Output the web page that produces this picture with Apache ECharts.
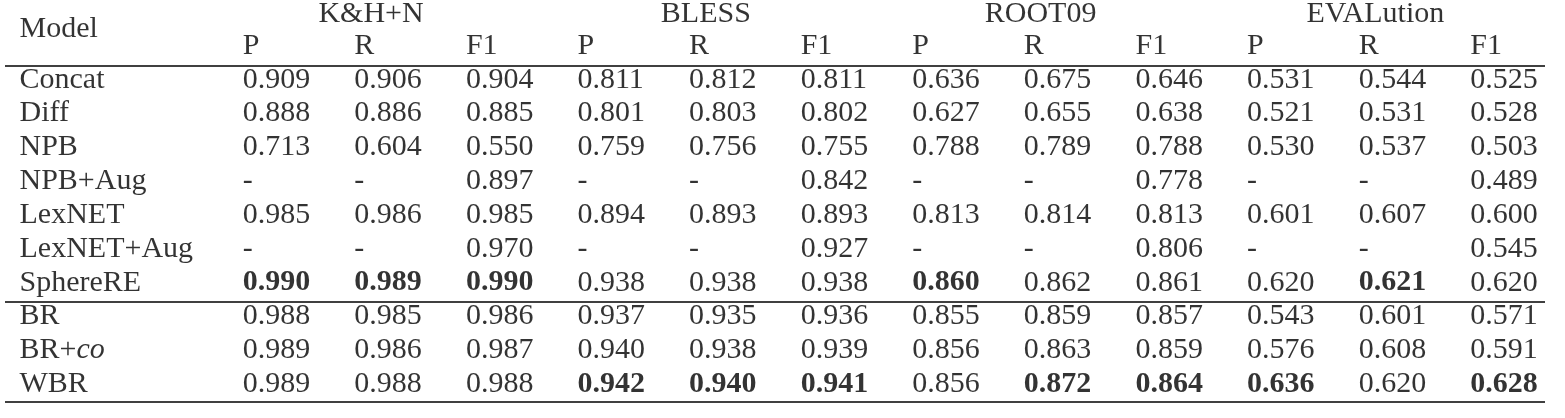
<!DOCTYPE html>
<html>
<head>
<meta charset="utf-8">
<script src="https://cdn.jsdelivr.net/npm/echarts@6/dist/echarts.min.js"></script>
<style>html,body{margin:0;background:#fff}#main{width:1565px;height:418px}</style>
</head>
<body>
<div id="main"></div>
<script>
var groups = ['K&H+N', 'BLESS', 'ROOT09', 'EVALution'];
var metrics = ['P', 'R', 'F1'];
var models = ['Concat', 'Diff', 'NPB', 'NPB+Aug', 'LexNET', 'LexNET+Aug', 'SphereRE', 'BR', 'BR+co', 'WBR'];
var values = [
    ['0.909','0.906','0.904','0.811','0.812','0.811','0.636','0.675','0.646','0.531','0.544','0.525'],
    ['0.888','0.886','0.885','0.801','0.803','0.802','0.627','0.655','0.638','0.521','0.531','0.528'],
    ['0.713','0.604','0.550','0.759','0.756','0.755','0.788','0.789','0.788','0.530','0.537','0.503'],
    ['-','-','0.897','-','-','0.842','-','-','0.778','-','-','0.489'],
    ['0.985','0.986','0.985','0.894','0.893','0.893','0.813','0.814','0.813','0.601','0.607','0.600'],
    ['-','-','0.970','-','-','0.927','-','-','0.806','-','-','0.545'],
    ['0.990','0.989','0.990','0.938','0.938','0.938','0.860','0.862','0.861','0.620','0.621','0.620'],
    ['0.988','0.985','0.986','0.937','0.935','0.936','0.855','0.859','0.857','0.543','0.601','0.571'],
    ['0.989','0.986','0.987','0.940','0.938','0.939','0.856','0.863','0.859','0.576','0.608','0.591'],
    ['0.989','0.988','0.988','0.942','0.940','0.941','0.856','0.872','0.864','0.636','0.620','0.628']
];
// [row, col] 加粗
var boldCells = [[6,0],[6,1],[6,2],[6,6],[6,10],[9,3],[9,4],[9,5],[9,7],[9,8],[9,9],[9,11]];

function isBold(r, c) {
    return boldCells.some(function (b) { return b[0] === r && b[1] === c; });
}

// 单元格文本
var normalCells = [], boldData = [], headCells = [];
values.forEach(function (row, r) {
    row.forEach(function (v, c) {
        (isBold(r, c) ? boldData : normalCells).push([c, r, v]);
    });
    headCells.push([-2, r, models[r]]);
});
headCells.push([-2, -1.5, 'Model']);
groups.forEach(function (g, i) {
    metrics.forEach(function (m, j) { headCells.push([i * 3 + j, -1, m]); });
});
var groupCells = groups.map(function (g, i) { return [i * 3 + 1.15, -1.95, g]; });

var font = '"Liberation Serif", "DejaVu Serif", serif';
function textSeries(data, opts) {
    return {
        type: 'scatter',
        symbolSize: 0,
        data: data,
        silent: true,
        label: Object.assign({
            show: true,
            position: 'inside',
            align: 'left',
            verticalAlign: 'middle',
            fontFamily: font,
            fontSize: 30,
            color: '#000',
            formatter: function (p) {
                var t = p.data[2];
                return t === 'BR+co' ? 'BR+{i|co}' : t;
            },
            rich: { i: { fontStyle: 'italic', fontFamily: font, fontSize: 30, color: '#000' } }
        }, opts || {})
    };
}

var tableChart = echarts.init(document.getElementById('main'));
var tableOption = {
    animation: false,
    grid: { left: 5, right: 20, top: 12, bottom: -14 },
    xAxis: { type: 'value', min: -2.13, max: 11.67, show: false },
    yAxis: { type: 'value', min: -2, max: 10, inverse: true, show: false },
    series: [
        textSeries(normalCells),
        textSeries(boldData, { fontWeight: 'bold' }),
        textSeries(headCells),
        textSeries(groupCells, { align: 'center' }),
        {
            type: 'line',
            data: [],
            markLine: {
                silent: true,
                symbol: 'none',
                label: { show: false },
                lineStyle: { color: '#000', type: 'solid', width: 1.6 },
                data: [{ yAxis: -0.4 }, { yAxis: 6.57 }, { yAxis: 9.51 }]
            }
        }
    ]
};
tableChart.setOption(tableOption);
</script>
</body>
</html>
